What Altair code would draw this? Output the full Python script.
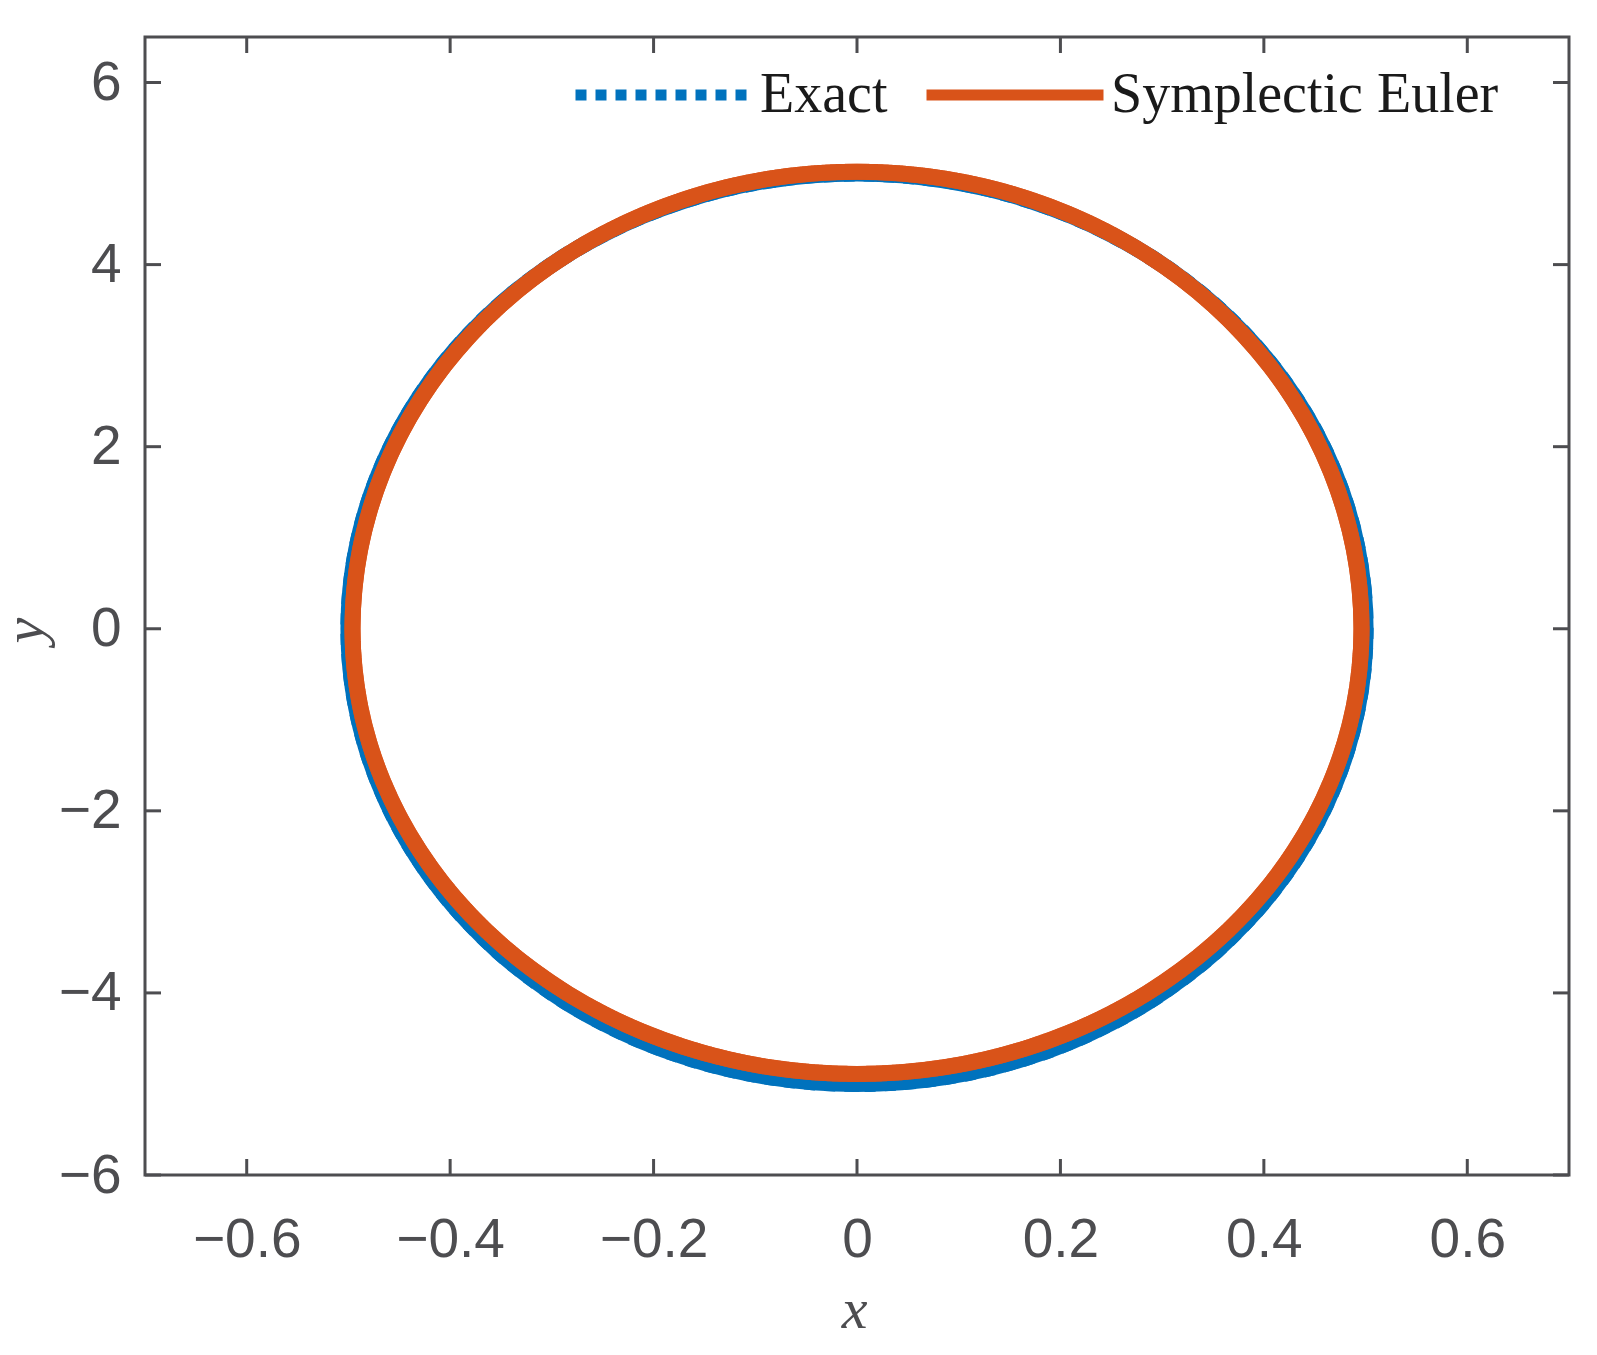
import altair as alt
import pandas as pd

# Exact solution (every 5 degrees around the loop)
exact_x = [0.5000, 0.4981, 0.4924, 0.4830, 0.4698, 0.4532, 0.4330, 0.4096, 0.3830, 0.3536,
           0.3214, 0.2868, 0.2500, 0.2113, 0.1710, 0.1294, 0.0868, 0.0436, 0.0000,
           -0.0436, -0.0868, -0.1294, -0.1710, -0.2113, -0.2500, -0.2868, -0.3214, -0.3536,
           -0.3830, -0.4096, -0.4330, -0.4532, -0.4698, -0.4830, -0.4924, -0.4981, -0.5000,
           -0.4981, -0.4924, -0.4830, -0.4698, -0.4532, -0.4330, -0.4096, -0.3830, -0.3536,
           -0.3214, -0.2868, -0.2500, -0.2113, -0.1710, -0.1294, -0.0868, -0.0436, 0.0000,
           0.0436, 0.0868, 0.1294, 0.1710, 0.2113, 0.2500, 0.2868, 0.3214, 0.3536,
           0.3830, 0.4096, 0.4330, 0.4532, 0.4698, 0.4830, 0.4924, 0.4981]
exact_y = [0.000, 0.436, 0.868, 1.294, 1.710, 2.113, 2.500, 2.868, 3.214, 3.536,
           3.830, 4.096, 4.330, 4.532, 4.698, 4.830, 4.924, 4.981, 5.000,
           4.981, 4.924, 4.830, 4.698, 4.532, 4.330, 4.096, 3.830, 3.536,
           3.214, 2.868, 2.500, 2.113, 1.710, 1.294, 0.868, 0.436, 0.000,
           -0.436, -0.868, -1.294, -1.710, -2.113, -2.500, -2.868, -3.214, -3.536,
           -3.830, -4.096, -4.330, -4.532, -4.698, -4.830, -4.924, -4.981, -5.000,
           -4.981, -4.924, -4.830, -4.698, -4.532, -4.330, -4.096, -3.830, -3.536,
           -3.214, -2.868, -2.500, -2.113, -1.710, -1.294, -0.868, -0.436]

# Symplectic Euler solution (same sampling)
euler_x = [0.4960, 0.4941, 0.4885, 0.4791, 0.4661, 0.4495, 0.4295, 0.4063, 0.3799, 0.3507,
           0.3188, 0.2845, 0.2480, 0.2096, 0.1696, 0.1284, 0.0861, 0.0432, 0.0000,
           -0.0432, -0.0861, -0.1284, -0.1696, -0.2096, -0.2480, -0.2845, -0.3188, -0.3507,
           -0.3799, -0.4063, -0.4295, -0.4495, -0.4661, -0.4791, -0.4885, -0.4941, -0.4960,
           -0.4941, -0.4885, -0.4791, -0.4661, -0.4495, -0.4295, -0.4063, -0.3799, -0.3507,
           -0.3188, -0.2845, -0.2480, -0.2096, -0.1696, -0.1284, -0.0861, -0.0432, 0.0000,
           0.0432, 0.0861, 0.1284, 0.1696, 0.2096, 0.2480, 0.2845, 0.3188, 0.3507,
           0.3799, 0.4063, 0.4295, 0.4495, 0.4661, 0.4791, 0.4885, 0.4941]
euler_y = [0.000, 0.438, 0.872, 1.299, 1.717, 2.122, 2.510, 2.879, 3.227, 3.550,
           3.846, 4.112, 4.347, 4.549, 4.717, 4.849, 4.944, 5.001, 5.020,
           5.001, 4.944, 4.849, 4.717, 4.549, 4.347, 4.112, 3.846, 3.550,
           3.227, 2.879, 2.510, 2.122, 1.717, 1.299, 0.872, 0.438, 0.000,
           -0.426, -0.849, -1.266, -1.672, -2.067, -2.445, -2.805, -3.143, -3.458,
           -3.746, -4.006, -4.235, -4.432, -4.595, -4.723, -4.816, -4.871, -4.890,
           -4.871, -4.816, -4.723, -4.595, -4.432, -4.235, -4.006, -3.746, -3.458,
           -3.143, -2.805, -2.445, -2.067, -1.672, -1.266, -0.849, -0.426]

x_ticks = [-0.6, -0.4, -0.2, 0, 0.2, 0.4, 0.6]
y_ticks = [-6, -4, -2, 0, 2, 4, 6]
series_names = ["Exact", "Symplectic Euler"]
series_colors = ["#0072BD", "#D95319"]
series_dashes = [[11, 9], [1, 0]]

W, H = 1424, 1138
AX = "#4D4D50"

exact_df = pd.DataFrame({"x": exact_x, "y": exact_y, "i": range(len(exact_x)),
                         "series": series_names[0]})
euler_df = pd.DataFrame({"x": euler_x, "y": euler_y, "i": range(len(euler_x)),
                         "series": series_names[1]})
xt_df = pd.DataFrame({"v": x_ticks})
yt_df = pd.DataFrame({"v": y_ticks})

xscale = alt.Scale(domain=[-0.7, 0.7], nice=False, zero=False)
yscale = alt.Scale(domain=[-6, 6.5], nice=False, zero=False)

legend = alt.Legend(
    title=None, orient="none", direction="horizontal",
    legendX=425, legendY=-36,
    symbolType="stroke", symbolSize=177 * 177, symbolStrokeWidth=11,
    labelFont="Liberation Serif", labelFontSize=56, labelColor="#1A1A1A",
    labelOffset=2, labelLimit=0, columnPadding=16, padding=0,
)
color = alt.Color("series:N", scale=alt.Scale(domain=series_names, range=series_colors),
                  legend=legend)
dash = alt.StrokeDash("series:N", scale=alt.Scale(domain=series_names, range=series_dashes),
                      legend=legend)

xaxis = alt.Axis(values=x_ticks, format="~g", title="x", titleFont="Liberation Serif",
                 titleFontStyle="italic", titleFontWeight="normal", titleFontSize=58,
                 titleColor=AX, titleX=W / 2 - 3, titleY=152, titleBaseline="alphabetic",
                 labelPadding=38)
yaxis = alt.Axis(values=y_ticks, format="~g", title="y", titleFont="Liberation Serif",
                 titleFontStyle="italic", titleFontWeight="normal", titleFontSize=58,
                 titleColor=AX, titleAngle=270, titleX=-103, titleY=593,
                 titleBaseline="alphabetic", titleAlign="center", labelPadding=24)


def legend_layer(df, with_axes=False):
    # drawn underneath a solid copy; only supplies the legend entries
    kw = dict(axis=xaxis) if with_axes else {}
    kwy = dict(axis=yaxis) if with_axes else {}
    return alt.Chart(df).mark_line(strokeWidth=16, interpolate="cardinal-closed").encode(
        x=alt.X("x:Q", scale=xscale, **kw),
        y=alt.Y("y:Q", scale=yscale, **kwy),
        order="i:Q",
        color=color,
        strokeDash=dash,
    )


def solid_layer(df, col):
    return alt.Chart(df).mark_line(
        strokeWidth=16, strokeJoin="round", interpolate="cardinal-closed", color=col
    ).encode(
        x=alt.X("x:Q", scale=xscale),
        y=alt.Y("y:Q", scale=yscale),
        order="i:Q",
    )


exact_legend = legend_layer(exact_df, with_axes=True)
exact_line = solid_layer(exact_df, series_colors[0])
euler_legend = legend_layer(euler_df)
euler_line = solid_layer(euler_df, series_colors[1])

tick_style = dict(color=AX, strokeWidth=3)
xt_bottom = alt.Chart(xt_df).mark_rule(**tick_style).encode(
    x=alt.X("v:Q", scale=xscale), y=alt.value(H), y2=alt.value(H - 16))
xt_top = alt.Chart(xt_df).mark_rule(**tick_style).encode(
    x=alt.X("v:Q", scale=xscale), y=alt.value(0), y2=alt.value(16))
yt_left = alt.Chart(yt_df).mark_rule(**tick_style).encode(
    y=alt.Y("v:Q", scale=yscale), x=alt.value(0), x2=alt.value(16))
yt_right = alt.Chart(yt_df).mark_rule(**tick_style).encode(
    y=alt.Y("v:Q", scale=yscale), x=alt.value(W), x2=alt.value(W - 16))

chart = alt.layer(
    exact_legend, exact_line, euler_legend, euler_line,
    xt_bottom, xt_top, yt_left, yt_right
).properties(
    width=W, height=H,
    autosize=alt.AutoSizeParams(type="none"),
    padding={"left": 137, "top": 29, "right": 20, "bottom": 180},
).configure_view(
    stroke=AX, strokeWidth=3
).configure_axis(
    domain=False, ticks=False, tickSize=0, grid=False,
    labelFont="Liberation Sans", labelFontSize=55, labelColor=AX,
)

chart.save("out.html", embed_options={"renderer": "svg", "actions": False})
